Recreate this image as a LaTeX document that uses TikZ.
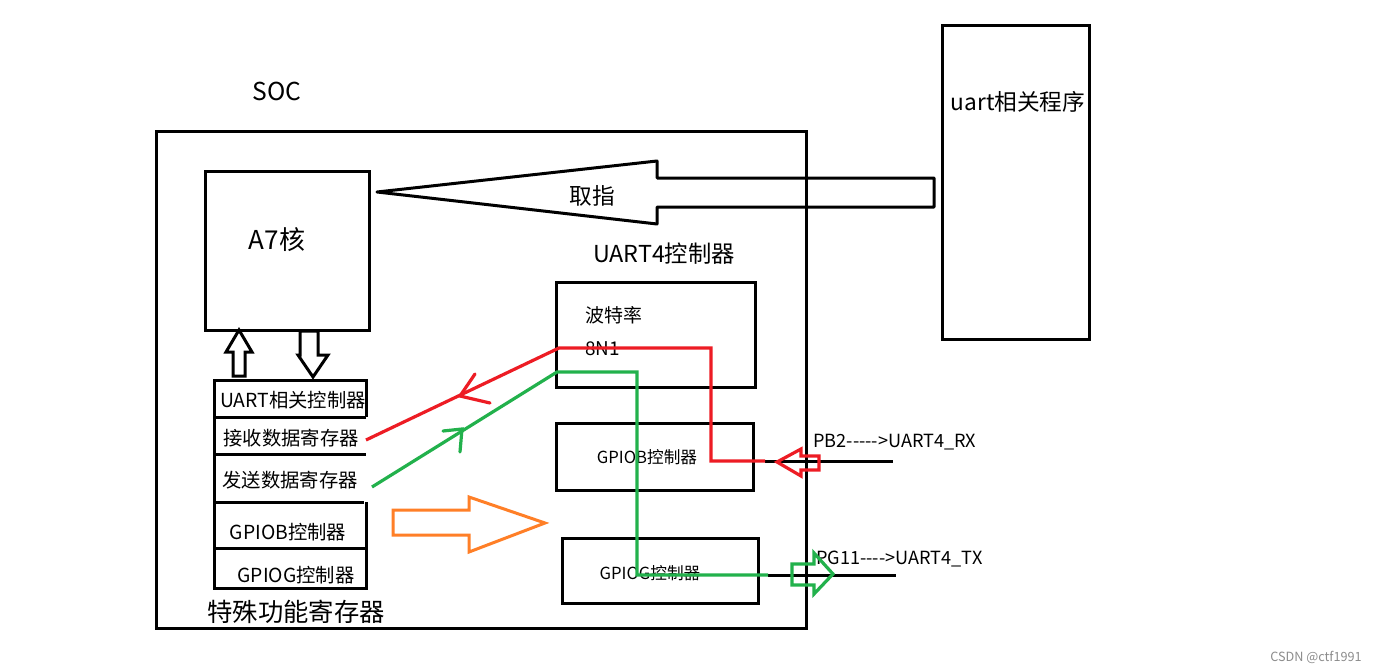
\documentclass[tikz,border=0pt]{standalone}
\usepackage{fontspec}
\setmainfont{Noto Sans CJK SC}
\newcommand\fsz[1]{\fontsize{#1}{#1}\selectfont}
\definecolor{pred}{RGB}{237,28,36}
\definecolor{pgreen}{RGB}{34,177,76}
\definecolor{porange}{RGB}{255,127,39}
\begin{document}
\begin{tikzpicture}[x=0.75pt,y=-0.75pt,
  bx/.style={draw=black,line width=2.25pt,inner sep=0pt},
  lbl/.style={inner sep=0pt,text=black},
  wire/.style={line width=2.25pt,line join=miter},
  hollow/.style={draw,line width=2.25pt,line join=miter},
  redw/.style={draw=pred,line width=2.4pt,line join=miter},
  greenw/.style={draw=pgreen,line width=2.4pt,line join=miter}]
\useasboundingbox (0,0) rectangle (1379,671);
\fill[white] (0,0) rectangle (1379,671);

% SOC outline and labels
\node[bx,minimum width={650*0.75pt},minimum height={497*0.75pt}] (soc) at (481,379.5) {};
\node[lbl,font=\fsz{18.5}] (soclbl) at (277,91) {SOC};

% A7 core
\node[bx,minimum width={164*0.75pt},minimum height={159*0.75pt}] (a7) at (287,250.5) {};
\node[lbl,font=\fsz{19.5}] (a7lbl) at (277,240) {A7核};

% uart program box
\node[bx,minimum width={147*0.75pt},minimum height={314*0.75pt}] (uart) at (1015.5,182) {};
\node[lbl,font=\fsz{17}] (uartlbl) at (1018,102) {uart相关程序};

% fetch arrow
\draw[hollow,line join=round] (377,192) -- (657,161) -- (657,178) -- (934,178) -- (934,207) -- (657,207) -- (657,224) -- cycle;
\node[lbl,font=\fsz{17}] (fetch) at (592,196) {取指};

% register stack
\node[lbl,font=\fsz{14.5}] (r1) at (293,400) {UART相关控制器};
\node[lbl,font=\fsz{14.5}] (r2) at (291,438) {接收数据寄存器};
\node[lbl,font=\fsz{14.5}] (r3) at (290,480) {发送数据寄存器};
\node[lbl,font=\fsz{14.5}] (r4) at (288,532) {GPIOB控制器};
\node[lbl,font=\fsz{14.5}] (r5) at (296,575) {GPIOG控制器};
\draw[wire] (366,417) -- (366,380) -- (214,380) -- (214,588) -- (366,588) -- (366,502);
\draw[wire] (214,417) -- (366,417);
\draw[wire] (214,454) -- (366,454);
\draw[wire] (214,502) -- (364,502);
\draw[wire] (214,548) -- (366,548);
\node[lbl,font=\fsz{19}] (sfr) at (296,612) {特殊功能寄存器};

% arrows between core and registers
\draw[hollow] (239,330) -- (252,352) -- (245,352) -- (245,376) -- (233,376) -- (233,352) -- (226,352) -- cycle;
\draw[hollow] (313,377) -- (328,355) -- (318,355) -- (318,331) -- (300,331) -- (300,355) -- (298,355) -- cycle;

% UART4 controller
\node[lbl,font=\fsz{17.5}] (u4lbl) at (664,254) {UART4控制器};
\node[bx,minimum width={199*0.75pt},minimum height={105*0.75pt}] (baud) at (656,334.5) {};
\node[lbl,font=\fsz{14.2},anchor=west] (baudt) at (585,315) {波特率};
\node[lbl,font=\fsz{14.2},anchor=west] (n81) at (585,349) {8N1};

% GPIO controllers
\node[bx,minimum width={197*0.75pt},minimum height={67*0.75pt}] (gpiob) at (654.5,456.5) {};
\node[lbl,font=\fsz{12.5}] (gpiobt) at (647,457) {GPIOB控制器};
\node[bx,minimum width={196*0.75pt},minimum height={65*0.75pt}] (gpiog) at (660,570.5) {};
\node[lbl,font=\fsz{12.5}] (gpiogt) at (650,573) {GPIOG控制器};

% pins
\coordinate (rxin) at (765,461);
\coordinate (rxend) at (893,461);
\coordinate (txout) at (768,575);
\coordinate (txend) at (896,575);
\draw[wire] (rxin) -- (rxend);
\draw[wire] (txout) -- (txend);
\node[lbl,font=\fsz{13.6},anchor=west] (rxl) at (813,442) {PB2-{}-{}-{}-{}->UART4\_RX};
\node[lbl,font=\fsz{13.6},anchor=west] (txl) at (816,559) {PG11-{}-{}-{}->UART4\_TX};

% orange arrow
\draw[hollow,draw=porange] (545,523) -- (469,497) -- (469,510) -- (393,510) -- (393,535) -- (469,535) -- (469,552) -- cycle;

% red receive path
\coordinate (rd1) at (366,440);
\coordinate (rd2) at (559,348);
\coordinate (rd3) at (711,348);
\coordinate (rd4) at (711,461);
\draw[redw] (rd1) -- (rd2) -- (rd3) -- (rd4) -- (rxin);
\draw[redw,line cap=round] (475,374) -- (460,396) -- (490,403);
\draw[redw] (777,462) -- (801,449) -- (801,456) -- (819,456) -- (819,470) -- (801,470) -- (801,476) -- cycle;

% green transmit path
\coordinate (gn1) at (372,487);
\coordinate (gn2) at (557,372);
\coordinate (gn3) at (637,372);
\coordinate (gn4) at (637,575);
\draw[greenw] (gn1) -- (gn2) -- (gn3) -- (gn4) -- (txout);
\draw[greenw,line cap=round] (443,431) -- (462,429) -- (460,452);
\draw[greenw] (833,574) -- (814,553) -- (814,564) -- (792,564) -- (792,585) -- (814,585) -- (814,594) -- cycle;

% watermark
\node[lbl,text=black!45,font=\fsz{9.5}] (wm) at (1316,657) {CSDN @ctf1991};
\end{tikzpicture}
\end{document}
